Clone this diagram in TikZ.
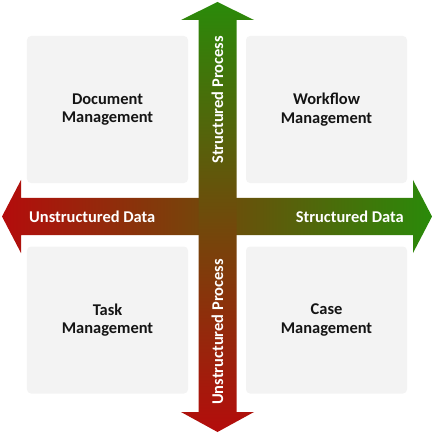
\documentclass[tikz,border=0pt]{standalone}
\usepackage{fontspec}
\setmainfont{Carlito}
\definecolor{arrred}{RGB}{180,12,12}
\definecolor{arrgreen}{RGB}{42,138,10}
\definecolor{boxfill}{RGB}{243,243,243}
\definecolor{boxtext}{RGB}{20,20,20}
\tikzset{
  quad/.style={fill=boxfill, rounded corners=4bp, minimum width=161bp, minimum height=147bp,
    inner sep=0pt, align=center, text=boxtext, font=\fontsize{16.5}{18.5}\selectfont\bfseries},
  arrlabel/.style={text=white, inner sep=0pt, font=\fontsize{16.5}{18.5}\selectfont\bfseries}
}
\begin{document}
\begin{tikzpicture}[x=1bp,y=-1bp]
\useasboundingbox (0,0) rectangle (433,433);
% quadrant boxes
\node[quad] (doc) at (107.5,109.5) {Document\\Management};
\node[quad] (wf) at (326.5,109.5) {Workflow\\Management};
\node[quad] (task) at (107.5,320) {Task\\Management};
\node[quad] (case) at (326.5,320) {Case\\Management};
% horizontal double arrow
\shade[left color=arrred, right color=arrgreen]
  (2,216.5) -- (21,180) -- (21,198) -- (413,198) -- (413,180) -- (432,216.5)
  -- (413,253) -- (413,235) -- (21,235) -- (21,253) -- cycle;
% vertical double arrow
\shade[top color=arrgreen, bottom color=arrred]
  (217.5,2) -- (254,20) -- (236.5,20) -- (236.5,412) -- (254,412) -- (217.5,432)
  -- (181,412) -- (198.5,412) -- (198.5,20) -- (181,20) -- cycle;
% labels
\node[arrlabel, anchor=west] (ud) at (29,216.5) {Unstructured Data};
\node[arrlabel, anchor=east] (sd) at (404,216.5) {Structured Data};
\node[arrlabel, rotate=90, anchor=east] (sp) at (217.5,36) {Structured Process};
\node[arrlabel, rotate=90, anchor=west] (up) at (217.5,405) {Unstructured Process};
\end{tikzpicture}
\end{document}
